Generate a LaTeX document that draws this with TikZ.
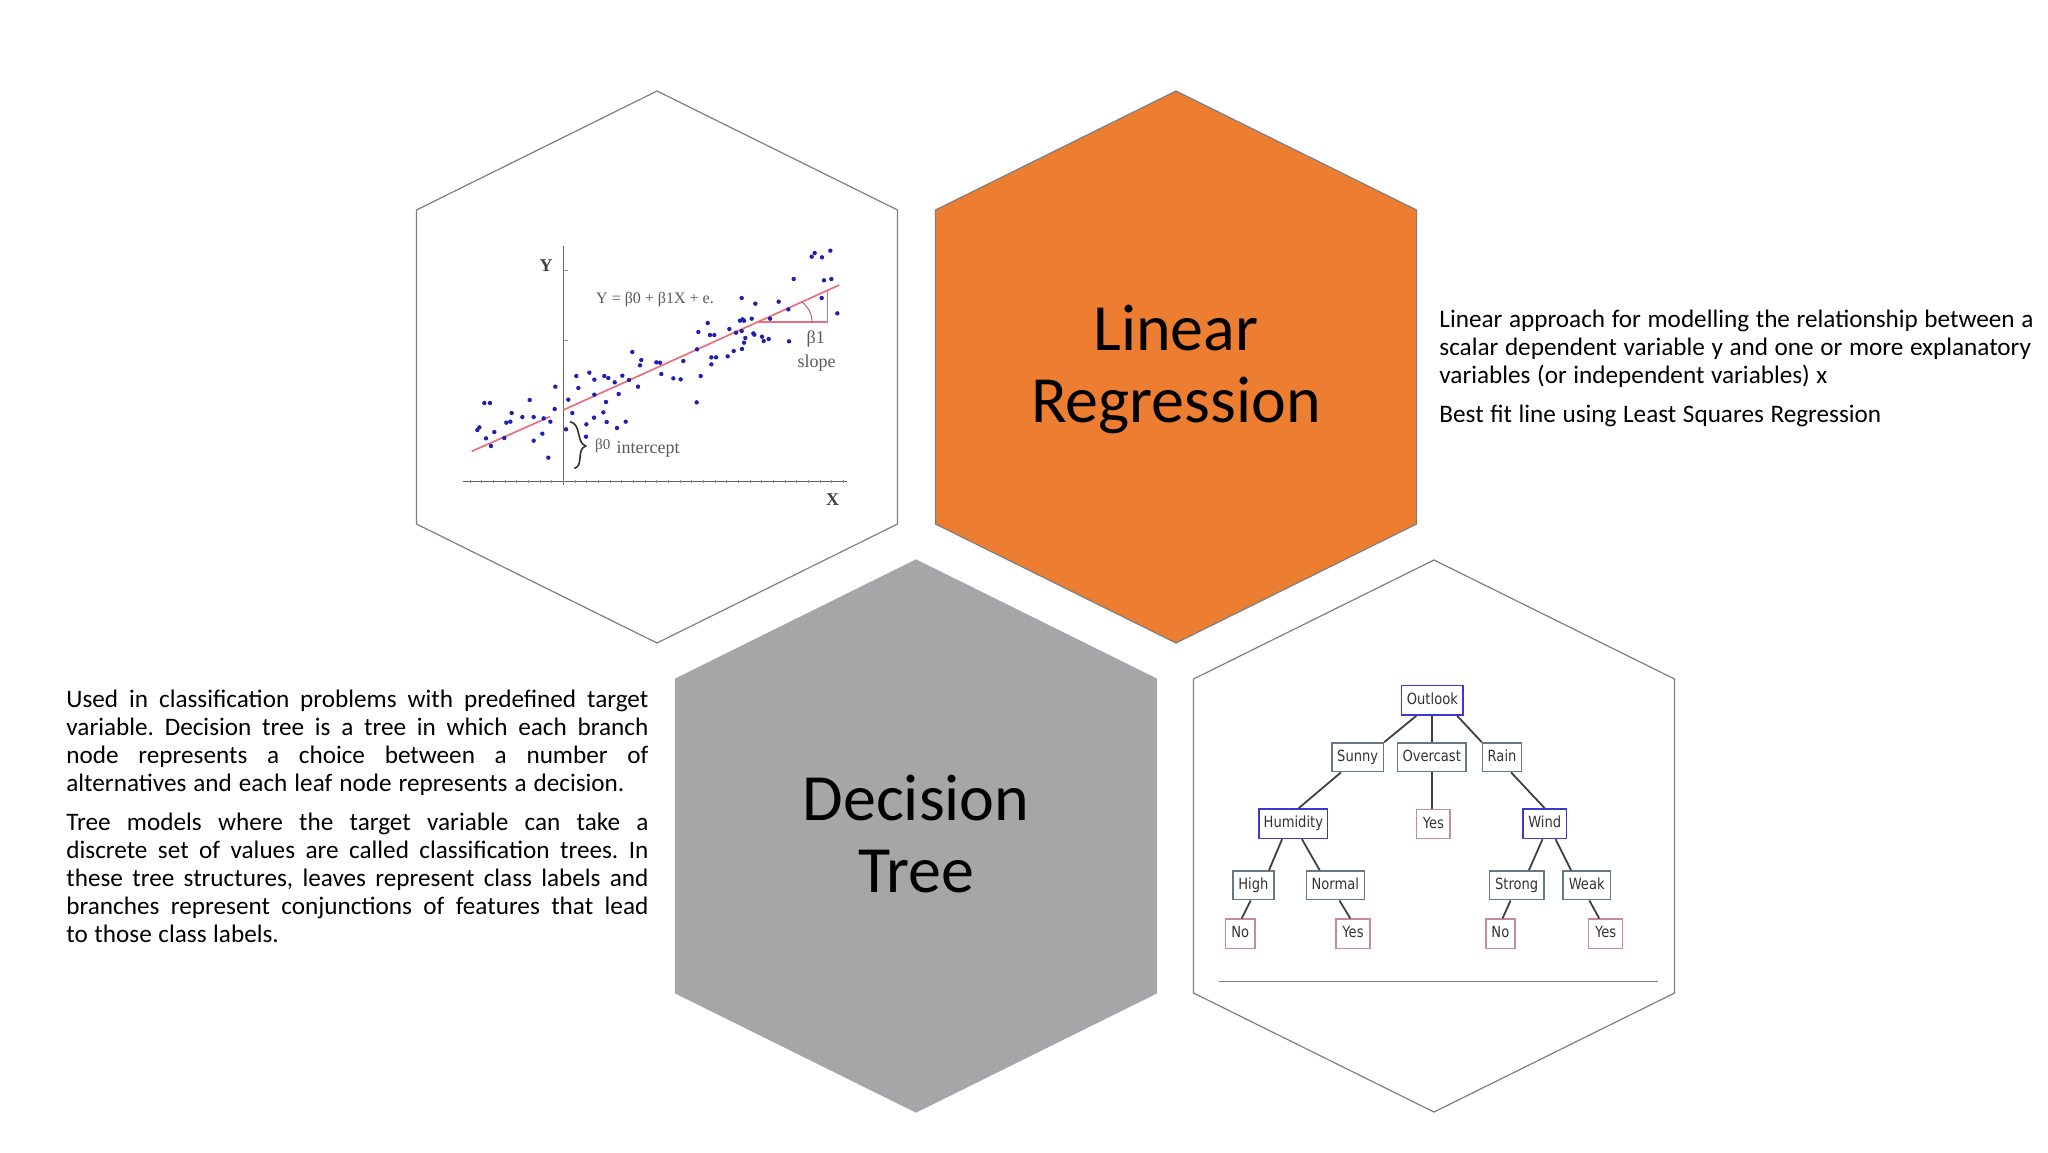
\documentclass[tikz,border=0pt]{standalone}
\usepackage{fontspec}
\setmainfont{Carlito}
\newfontfamily\serifimg{Liberation Serif}
\newfontfamily\treefont[FakeStretch=0.85]{DejaVu Sans}
\definecolor{hexline}{HTML}{7F7F7F}
\definecolor{hexorange}{HTML}{ED7D31}
\definecolor{hexgray}{HTML}{A6A5A8}
\definecolor{treeblue}{HTML}{3A3AD0}
\definecolor{treeslate}{HTML}{64788A}
\definecolor{treepink}{HTML}{C98A94}
\definecolor{dotblue}{HTML}{2020B0}
\definecolor{fitred}{HTML}{E8707C}
\newcommand{\hexpath}[2]{(#1,#2) -- ++(240.5,119) -- ++(0,314) -- ++(-240.5,119) -- ++(-240.5,-119) -- ++(0,-314) -- cycle}
\tikzset{
  hexoutline/.style={draw=hexline,line width=0.6pt,fill=white},
  title/.style={font=\fontsize{33}{36}\selectfont,align=center,text=black},
  bodytext/.style={font=\fontsize{12.6}{14}\selectfont,execute at begin node={\spaceskip=3.3pt plus 3pt minus 1pt\relax},inner sep=0pt,anchor=north west,text=black},
  treebase/.style={font=\treefont\fontsize{7.7}{8}\selectfont,text=black!80,inner sep=0pt,fill=white,line width=0.7pt,text height=5.7pt,text depth=1.5pt},
  treeroot/.style={treebase,draw=treeblue,minimum height=14.8pt},
  treemid/.style={treebase,draw=treeslate,minimum height=14.4pt},
  treeleaf/.style={treebase,draw=treepink,minimum height=14.6pt},
  treeedge/.style={draw=black!75,line width=0.9pt},
  plotlabel/.style={font=\serifimg\fontsize{9}{10}\selectfont,text=black!65,inner sep=0pt},
  plotaxis/.style={draw=black!60,line width=0.6pt},
  plotfit/.style={draw=fitred,line width=0.85pt},
}
\begin{document}
\frenchspacing
\begin{tikzpicture}[x=0.5pt,y=-0.5pt]
\useasboundingbox (0,0) rectangle (2048,1152);
\fill[white] (0,0) rectangle (2048,1152);
% hexagons
\draw[hexoutline] \hexpath{657}{91};
\draw[draw=hexline,line width=0.6pt,fill=hexorange] \hexpath{1176}{91};
\draw[draw=hexgray,line width=0.6pt,fill=hexgray] \hexpath{916}{560};
\draw[hexoutline] \hexpath{1434}{560};
% titles
\node[title] (lr) at (1176,369) {Linear\\Regression};
\node[title] (dt) at (916,834) {Decision\\Tree};
% body text
\node[bodytext,text width=330pt,align=left] (lrtext) at (1439,310) {Linear approach for modelling the relationship between a\\scalar dependent variable y and one or more explanatory\\variables (or independent variables) x};
\node[bodytext,text width=330pt,align=left] (lrtext2) at (1439,405) {Best fit line using Least Squares Regression};
\node[bodytext,text width=291pt,align=justify] (dttext) at (66,690) {Used in classification problems with predefined target\linebreak variable. Decision tree is a tree in which each branch\linebreak node represents a choice between a number of\linebreak \hbox to 279pt{alternatives and each leaf node represents a decision.}};
\node[bodytext,text width=291pt,align=justify] (dttext2) at (66,813) {Tree models where the target variable can take a\linebreak discrete set of values are called classification trees. In\linebreak these tree structures, leaves represent class labels and\linebreak branches represent conjunctions of features that lead\linebreak to those class labels.};
% regression plot
\begin{scope}[shift={(440,220)},x=0.16667pt,y=-0.16667pt]
  \draw[plotaxis] (370,78) -- (370,795);
  \draw[plotaxis] (70,785) -- (1222,785);
  \foreach \t in {90,125,...,1210} \draw[draw=black!45,line width=0.3pt] (\t,780) -- (\t,790);
  \foreach \t in {150,360} \draw[draw=black!45,line width=0.3pt] (370,\t) -- (385,\t);
  \draw[plotfit] (95,694) -- (330,590);
  \draw[plotfit] (370,570) -- (1198,195);
  \draw[plotfit] (950,307) -- (1162,307) -- (1162,212);
  \draw[draw=fitred!70!black,line width=0.4pt] (1085,245) .. controls (1105,262) and (1116,280) .. (1116,307);
  \draw[draw=black!80,line width=0.8pt] (390,605) .. controls (425,612) and (408,668) .. (437,678) .. controls (408,688) and (432,738) .. (403,745);
  \foreach \a/\b in {118/622,112/630,133/549,150/549,138/655,153/678,163/636,193/654,199/608,211/605,215/579,247/591,269/540,281/591,281/662,307/641,311/595,331/605,325/713,344/567,346/500,378/628,385/539,397/579,409/468,415/504,439/613,438/650,448/458,463/479,463/524,462/593,490/577,493/468,505/474,498/546,500/606,524/487,536/522,531/624,547/467,557/605,567/480,577/396,594/500,604/420,600/436,649/427,660/428,664/462,700/475,722/478,730/423,770/547,771/388,775/336,782/468,803/309,810/345,823/345,814/412,828/412,814/433,863/409,868/327,881/393,888/338,905/234,900/302,908/298,912/302,905/333,906/387,912/368,916/354,935/296,940/340,943/344,946/251,966/350,971/363,986/357,990/296,1016/245,1045/268,1047/364,1061/177,1115/110,1124/99,1146/112,1171/92,1152/181,1174/177,1145/234,1192/280}
    \fill[dotblue] (\a,\b) circle (1.1pt);
  \node[plotlabel,font=\serifimg\bfseries\fontsize{9}{10}\selectfont,text=black!75] (ylab) at (318,137) {Y};
  \node[plotlabel,font=\serifimg\bfseries\fontsize{9}{10}\selectfont,text=black!75] (xlab) at (1178,840) {X};
  \node[plotlabel,font=\serifimg\fontsize{8}{9}\selectfont] (eq) at (645,240) {Y = β0 + β1X + e.};
  \node[plotlabel] (b1) at (1127,357) {β1};
  \node[plotlabel] (slope) at (1130,428) {slope};
  \node[plotlabel,font=\serifimg\fontsize{7.5}{9}\selectfont] (b0) at (488,678) {β0};
  \node[plotlabel] (icpt) at (624,688) {intercept};
\end{scope}
% decision tree
\begin{scope}[shift={(1200,670)},x=0.16667pt,y=-0.16667pt]
  \node[treeroot,minimum width=30.8pt] (outlook) at (697,91) {Outlook};
  \node[treemid,minimum width=25.7pt] (sunny) at (473,262) {Sunny};
  \node[treemid,minimum width=34.2pt] (overcast) at (695,262) {Overcast};
  \node[treemid,minimum width=19.5pt] (rain) at (906,262) {Rain};
  \node[treeroot,minimum width=34.2pt] (humidity) at (280,461) {Humidity};
  \node[treeleaf,minimum width=16.8pt] (yesa) at (700,462) {Yes};
  \node[treeroot,minimum width=21.8pt] (wind) at (1034,461) {Wind};
  \node[treemid,minimum width=20.5pt] (high) at (160,646) {High};
  \node[treemid,minimum width=29pt] (normal) at (406,646) {Normal};
  \node[treemid,minimum width=27.2pt] (strong) at (950,646) {Strong};
  \node[treemid,minimum width=23.7pt] (weak) at (1160,646) {Weak};
  \node[treeleaf,minimum width=14.7pt] (noa) at (121,791) {No};
  \node[treeleaf,minimum width=17pt] (yesb) at (459,791) {Yes};
  \node[treeleaf,minimum width=14.5pt] (nob) at (901,791) {No};
  \node[treeleaf,minimum width=17pt] (yesc) at (1217,791) {Yes};
  \draw[treeedge] (outlook.-136) -- (sunny.north east);
  \draw[treeedge] (outlook.south -| overcast.north) -- (overcast.north);
  \draw[treeedge] (outlook.-32) -- (rain.north west);
  \draw[treeedge] (sunny.-138) -- (humidity.71);
  \draw[treeedge] (overcast.south) -- (overcast.south |- yesa.north);
  \draw[treeedge] (rain.-59) -- (wind.north);
  \draw[treeedge] (humidity.-126) -- (high.44);
  \draw[treeedge] (humidity.-61) -- (normal.136);
  \draw[treeedge] (wind.-98) -- (strong.51);
  \draw[treeedge] (wind.-55) -- (weak.136);
  \draw[treeedge] (high.-100) -- (noa.85);
  \draw[treeedge] (normal.-75) -- (yesb.100);
  \draw[treeedge] (strong.-112) -- (nob.82);
  \draw[treeedge] (weak.-80) -- (yesc.113);
  \coordinate (rulea) at (57,933);
  \coordinate (ruleb) at (1375,933);
  \draw[draw=black!50,line width=0.5pt] (rulea) -- (ruleb);
\end{scope}
\end{tikzpicture}
\end{document}
